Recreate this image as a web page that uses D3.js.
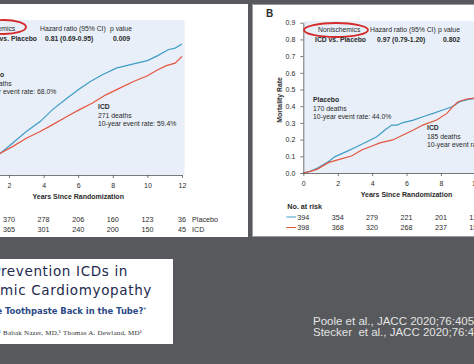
<!DOCTYPE html>
<html>
<head>
<meta charset="utf-8">
<script src="https://cdn.jsdelivr.net/npm/d3@7"></script>
<style>
  body { margin: 0; background: #56595c; }
  svg { display: block; font-family: "Liberation Sans", Arial, sans-serif; }
</style>
</head>
<body>
<svg id="chart" width="474" height="364"></svg>
<script>
// ---- data ----
const xTicks = [0, 2, 4, 6, 8, 10, 12];
const yTicks = [0, 0.1, 0.2, 0.3, 0.4, 0.5, 0.6, 0.7, 0.8, 0.9];

// panel A (ischemic), [years, mortality rate]
const ischPlacebo = [[0, 0], [0.5, 0.04], [1, 0.09], [1.5, 0.13], [2.2, 0.19], [3.0, 0.26], [3.8, 0.32], [4.5, 0.39],
  [5.35, 0.46], [6.0, 0.51], [6.7, 0.56], [7.4, 0.6], [8.2, 0.64], [9.2, 0.665], [10, 0.685], [10.6, 0.715],
  [11.2, 0.75], [11.6, 0.76], [12, 0.785]];
const ischICD = [[0, 0], [0.5, 0.04], [1, 0.09], [1.5, 0.13], [2.2, 0.17], [3.0, 0.22], [3.8, 0.26], [4.5, 0.3],
  [5.35, 0.35], [6.05, 0.39], [6.8, 0.43], [7.6, 0.48], [8.4, 0.52], [9.2, 0.56], [10, 0.594], [10.6, 0.63],
  [11.1, 0.655], [11.6, 0.67], [12, 0.71]];
const ischRiskYears = [2, 4, 6, 8, 10, 12];
const ischRiskPlacebo = [370, 278, 206, 160, 123, 36];
const ischRiskICD = [365, 301, 240, 200, 150, 45];

// panel B (nonischemic)
const nonPlacebo = [[0, 0], [0.4, 0.01], [0.8, 0.028], [1.45, 0.068], [1.85, 0.098], [2.5, 0.128], [3.1, 0.157],
  [3.7, 0.187], [4.27, 0.217], [4.75, 0.257], [5.14, 0.287], [5.45, 0.287], [5.8, 0.302], [6.4, 0.317],
  [6.95, 0.337], [7.55, 0.357], [8.1, 0.377], [8.65, 0.397], [9.1, 0.427], [9.6, 0.441], [10, 0.447], [10.5, 0.455]];
const nonICD = [[0, 0], [0.4, 0.01], [0.8, 0.022], [1.45, 0.062], [2.1, 0.082], [2.8, 0.102], [3.4, 0.138],
  [4.0, 0.162], [4.45, 0.18], [5.2, 0.198], [5.8, 0.228], [6.4, 0.257], [6.95, 0.287], [7.75, 0.317],
  [8.35, 0.357], [8.65, 0.393], [9.0, 0.427], [9.5, 0.443], [10, 0.45], [10.5, 0.46]];
const nonRiskYears = [0, 2, 4, 6, 8, 10];
const nonRiskPlacebo = [394, 354, 279, 221, 201, 127];
const nonRiskICD = [398, 368, 320, 268, 237, 152];

const blue = "#3f9cc6";
const red = "#e4553f";
const ink = "#2b2b2b";

const svg = d3.select("#chart");

// slide background + white figure panels
svg.append("rect").attr("width", 474).attr("height", 364).attr("fill", "#57595c");
svg.append("rect").attr("x", -5).attr("y", 4).attr("width", 253).attr("height", 233).attr("fill", "#fff");
svg.append("rect").attr("x", 252.5).attr("y", 4.5).attr("width", 240).attr("height", 232)
  .attr("fill", "#fff").attr("stroke", "#9a9c9e").attr("stroke-width", 1);

/**
 * Draw one Kaplan-Meier panel
 */
function drawPanel(cfg) {
  let g = svg.append("g");
  let x = d3.scaleLinear().domain([0, 12]).range(cfg.xRange);
  let y = d3.scaleLinear().domain([0, 0.9]).range(cfg.yRange);
  let fs = 6.8;

  // plot area tint
  g.append("rect")
    .attr("x", x(0)).attr("y", y(0.9) - cfg.bgPad)
    .attr("width", x(12) + 2.5 - x(0)).attr("height", y(0) - y(0.9) + cfg.bgPad)
    .attr("fill", "#e8eff8");

  // curves
  let line = d3.line().x(d => x(d[0])).y(d => y(d[1]));
  [[cfg.placebo, blue], [cfg.icd, red]].forEach(function(s) {
    g.append("path").datum(s[0]).attr("d", line)
      .attr("fill", "none").attr("stroke", s[1]).attr("stroke-width", 1.2);
  });

  // axes
  function styleAxis(a) {
    a.select(".domain").attr("stroke", "#555").attr("stroke-width", 0.8);
    a.selectAll(".tick line").attr("stroke", "#555").attr("stroke-width", 0.8);
    a.selectAll("text").attr("fill", ink).attr("font-size", 7).attr("font-family", "Liberation Sans, Arial, sans-serif");
  }
  g.append("g").attr("transform", "translate(0," + y(0) + ")")
    .call(d3.axisBottom(x).tickValues(xTicks).tickSize(3).tickSizeOuter(0).tickPadding(5.5))
    .call(styleAxis);
  g.append("g").attr("transform", "translate(" + x(0) + ",0)")
    .call(d3.axisLeft(y).tickValues(yTicks).tickFormat(d3.format(".1f")).tickSize(3).tickSizeOuter(0).tickPadding(5))
    .call(styleAxis);

  g.append("text").attr("x", x(6)).attr("y", y(0) + 23.5).attr("text-anchor", "middle")
    .attr("font-size", 7).attr("font-weight", "bold").attr("fill", ink).text("Years Since Randomization");
  g.append("text").attr("transform", "translate(" + (x(0) - 21) + "," + (y(0.45) + 2) + ") rotate(-90)")
    .attr("text-anchor", "middle").attr("font-size", 6.9).attr("font-weight", "bold").attr("fill", ink)
    .text("Mortality Rate");

  // header: subgroup, hazard ratio, p value
  let h = cfg.head;
  g.append("ellipse").attr("cx", h.ell[0]).attr("cy", h.ell[1]).attr("rx", h.ell[2]).attr("ry", h.ell[3])
    .attr("fill", "none").attr("stroke", "#d42a2a").attr("stroke-width", 1.8);
  let headTexts = [
    [h.group, h.x0, h.y, "normal"],
    ["Hazard ratio (95% CI)", h.x1, h.y, "normal"],
    ["p value", h.x2, h.y, "normal"],
    ["ICD vs. Placebo", h.x0b, h.y + 10, "bold"],
    [h.hr, h.x1b, h.y + 10, "bold"],
    [h.p, h.x2b, h.y + 10, "bold"]
  ];
  headTexts.forEach(function(t) {
    g.append("text").attr("x", t[1]).attr("y", t[2]).attr("font-size", fs)
      .attr("font-weight", t[3]).attr("fill", ink).text(t[0]);
  });

  // curve annotations
  cfg.notes.forEach(function(n) {
    n.lines.forEach(function(s, i) {
      g.append("text").attr("x", n.x).attr("y", n.y + i * 8.5).attr("font-size", fs)
        .attr("font-weight", i === 0 ? "bold" : "normal").attr("fill", ink).text(s);
    });
  });

  // numbers at risk
  let r = cfg.risk;
  [[r.placebo, r.y], [r.icd, r.y + 10.5]].forEach(function(row) {
    g.selectAll(null).data(row[0]).enter().append("text")
      .attr("x", (d, i) => x(r.years[i])).attr("y", row[1])
      .attr("text-anchor", "middle").attr("font-size", 7.2).attr("fill", ink)
      .text(d => d);
  });
  if (r.names) {
    g.append("text").attr("x", x(12) + 10).attr("y", r.y).attr("font-size", 7.2).attr("fill", ink).text("Placebo");
    g.append("text").attr("x", x(12) + 10).attr("y", r.y + 10.5).attr("font-size", 7.2).attr("fill", ink).text("ICD");
  }
  if (r.legend) {
    g.append("text").attr("x", x(0) - 16).attr("y", r.y - 11).attr("font-size", 7.2)
      .attr("font-weight", "bold").attr("fill", ink).text("No. at risk");
    [[blue, r.y - 2.5], [red, r.y + 8]].forEach(function(l) {
      g.append("line").attr("x1", x(0) - 17).attr("x2", x(0) - 7).attr("y1", l[1]).attr("y2", l[1])
        .attr("stroke", l[0]).attr("stroke-width", 1);
    });
  }
  if (cfg.letter) {
    g.append("text").attr("x", cfg.letter[1]).attr("y", cfg.letter[2]).attr("font-size", 10)
      .attr("font-weight", "bold").attr("fill", ink).text(cfg.letter[0]);
  }
}

drawPanel({
  xRange: [-25.6, 182], yRange: [175, 24.7], bgPad: 4.7,
  placebo: ischPlacebo, icd: ischICD,
  head: { group: "Ischemics", hr: "0.81 (0.69-0.95)", p: "0.009", y: 31,
    x0: -15, x1: 40, x2: 110, x0b: -14, x1b: 45, x2b: 113, ell: [4, 27, 22, 7] },
  notes: [
    { x: -22, y: 77, lines: ["Placebo", "291 deaths", "10-year event rate: 68.0%"] },
    { x: 98, y: 109, lines: ["ICD", "271 deaths", "10-year event rate: 59.4%"] }
  ],
  risk: { years: ischRiskYears, placebo: ischRiskPlacebo, icd: ischRiskICD, y: 221.5, names: true }
});

drawPanel({
  xRange: [303.3, 509.7], yRange: [173, 22.7], bgPad: 1.7,
  placebo: nonPlacebo, icd: nonICD,
  head: { group: "Nonischemics", hr: "0.97 (0.79-1.20)", p: "0.802", y: 32,
    x0: 318, x1: 370, x2: 438, x0b: 315, x1b: 377, x2b: 443, ell: [336, 30, 32, 7] },
  notes: [
    { x: 313, y: 102, lines: ["Placebo", "170 deaths", "10-year event rate: 44.0%"] },
    { x: 427, y: 130, lines: ["ICD", "185 deaths", "10-year event rate: 45.5%"] }
  ],
  risk: { years: nonRiskYears, placebo: nonRiskPlacebo, icd: nonRiskICD, y: 219.5, legend: true },
  letter: ["B", 266, 17]
});

// article title card
svg.append("rect").attr("x", -5).attr("y", 259).attr("width", 178).attr("height", 85).attr("fill", "#fff");
const card = svg.append("g").attr("text-anchor", "end").attr("font-family", "DejaVu Sans, sans-serif");
card.append("text").attr("x", 128).attr("y", 276).attr("font-size", 13.5).attr("letter-spacing", 0.65)
  .attr("fill", "#1d2a4d").text("Primary Prevention ICDs in");
card.append("text").attr("x", 152).attr("y", 295).attr("font-size", 13.5).attr("letter-spacing", 0.65)
  .attr("fill", "#1d2a4d").text("Nonischemic Cardiomyopathy");
let sub = card.append("text").attr("x", 146).attr("y", 314)
  .attr("font-size", 8.4).attr("font-weight", "bold").attr("fill", "#2c4a86");
sub.append("tspan").text("Time to Put the Toothpaste Back in the Tube?");
sub.append("tspan").attr("font-size", 5).attr("dy", -3).text("*");
card.append("text").attr("x", 142).attr("y", 335).attr("font-family", "Liberation Serif, serif")
  .attr("font-size", 7).attr("letter-spacing", 0.2).attr("fill", "#333")
  .text("Eric C. Stecker, MD,¹ Babak Nazer, MD,¹ Thomas A. Dewland, MD¹");

// citations
const cites = ["Poole et al., JACC 2020;76:405-415", "Stecker  et al., JACC 2020;76:416-418"];
svg.selectAll(".cite").data(cites).enter().append("text")
  .attr("class", "cite").attr("x", 313).attr("y", (d, i) => 325 + i * 11)
  .attr("font-size", 11.5).attr("fill", "#e4e4e4").attr("xml:space", "preserve").text(d => d);
</script>
</body>
</html>
